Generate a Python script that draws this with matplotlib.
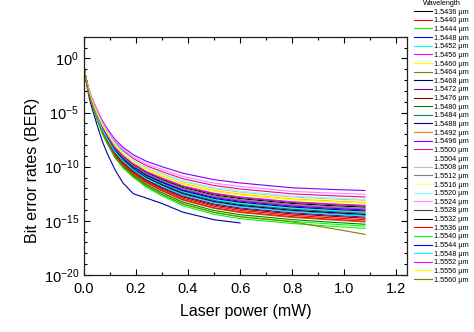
import numpy as np
import matplotlib
matplotlib.use("Agg")
import matplotlib.pyplot as plt
from matplotlib.ticker import FixedLocator, NullFormatter, MultipleLocator, FormatStrFormatter

plt.rcParams["font.family"] = ["Liberation Sans", "DejaVu Sans"]
plt.rcParams["mathtext.fontset"] = "custom"
plt.rcParams["mathtext.rm"] = "Liberation Sans"
plt.rcParams["mathtext.it"] = "Liberation Sans:italic"

power = [0, 0.01, 0.02, 0.03, 0.05, 0.07, 0.09, 0.12, 0.15, 0.19, 0.24, 0.3, 0.38, 0.5, 0.6, 0.8, 0.95, 1.08]

wavelengths = ["1.5436", "1.5440", "1.5444", "1.5448", "1.5452", "1.5456", "1.5460", "1.5464",
               "1.5468", "1.5472", "1.5476", "1.5480", "1.5484", "1.5488", "1.5492", "1.5496",
               "1.5500", "1.5504", "1.5508", "1.5512", "1.5516", "1.5520", "1.5524", "1.5528",
               "1.5532", "1.5536", "1.5540", "1.5544", "1.5548", "1.5552", "1.5556", "1.5560"]

# log10(BER) per wavelength
ber_1_5436 = [-0.8, -2.09, -3.08, -3.82, -5.1, -6.23, -7.12, -8.25, -9.04, -9.82, -10.56, -11.19, -11.92, -12.61, -12.95, -13.4, -13.6, -13.74]
ber_1_5440 = [-0.8, -2.15, -3.21, -3.99, -5.39, -6.62, -7.58, -8.81, -9.66, -10.52, -11.35, -12.08, -12.91, -13.66, -14.04, -14.49, -14.72, -14.9]
ber_1_5444 = [-0.8, -2.19, -3.28, -4.07, -5.55, -6.83, -7.82, -9.1, -9.99, -10.87, -11.76, -12.54, -13.42, -14.21, -14.6, -15.05, -15.3, -15.49]
ber_1_5448 = [-0.8, -2.1, -3.1, -3.86, -5.16, -6.31, -7.21, -8.37, -9.17, -9.97, -10.72, -11.38, -12.13, -12.83, -13.18, -13.63, -13.83, -13.99]
ber_1_5452 = [-0.8, -2.11, -3.13, -3.89, -5.21, -6.38, -7.3, -8.47, -9.28, -10.1, -10.87, -11.54, -12.31, -13.02, -13.38, -13.83, -14.04, -14.2]
ber_1_5456 = [-0.8, -2.1, -3.1, -3.85, -5.14, -6.29, -7.19, -8.33, -9.13, -9.93, -10.68, -11.32, -12.07, -12.77, -13.12, -13.57, -13.77, -13.92]
ber_1_5460 = [-0.8, -2.07, -3.04, -3.77, -5.01, -6.11, -6.98, -8.08, -8.85, -9.61, -10.32, -10.92, -11.62, -12.29, -12.62, -13.07, -13.26, -13.39]
ber_1_5464 = [-0.8, -2.17, -3.23, -4.02, -5.45, -6.7, -7.66, -8.91, -9.78, -10.64, -11.49, -12.24, -13.09, -13.86, -14.24, -14.69, -14.92, -15.11]
ber_1_5468 = [-0.8, -2.11, -3.12, -3.87, -5.19, -6.35, -7.26, -8.42, -9.23, -10.03, -10.8, -11.46, -12.22, -12.93, -13.28, -13.73, -13.94, -14.09]
ber_1_5472 = [-0.8, -2.14, -3.18, -3.95, -5.33, -6.54, -7.48, -8.69, -9.53, -10.37, -11.18, -11.89, -12.7, -13.44, -13.81, -14.26, -14.48, -14.65]
ber_1_5476 = [-0.8, -2.15, -3.19, -3.97, -5.36, -6.58, -7.52, -8.74, -9.59, -10.43, -11.25, -11.97, -12.79, -13.54, -13.91, -14.36, -14.58, -14.76]
ber_1_5480 = [-0.8, -2.18, -3.26, -4.05, -5.5, -6.77, -7.75, -9.01, -9.89, -10.77, -11.64, -12.4, -13.27, -14.05, -14.44, -14.89, -15.13, -15.32]
ber_1_5484 = [-0.8, -2.12, -3.14, -3.9, -5.24, -6.42, -7.34, -8.52, -9.34, -10.16, -10.94, -11.62, -12.4, -13.12, -13.48, -13.93, -14.14, -14.3]
ber_1_5488 = [-0.8, -2.3, -3.6, -4.5, -6.1, -7.6, -8.8, -10.3, -11.5, -12.5, -12.9, -13.4, -14.2, -14.9, -15.2, np.nan, np.nan, np.nan]
ber_1_5492 = [-0.8, -2.06, -3.02, -3.76, -4.98, -6.07, -6.93, -8.03, -8.79, -9.55, -10.24, -10.84, -11.53, -12.19, -12.52, -12.97, -13.15, -13.29]
ber_1_5496 = [-0.8, -2.0, -2.9, -3.6, -4.7, -5.7, -6.5, -7.5, -8.2, -8.9, -9.5, -10.0, -10.6, -11.2, -11.5, -11.95, -12.1, -12.2]
ber_1_5500 = [-0.8, -2.03, -2.97, -3.69, -4.85, -5.9, -6.74, -7.79, -8.52, -9.26, -9.91, -10.46, -11.11, -11.74, -12.06, -12.51, -12.68, -12.8]
ber_1_5504 = [-0.8, -2.07, -3.05, -3.79, -5.03, -6.14, -7.02, -8.13, -8.9, -9.68, -10.39, -11.0, -11.71, -12.38, -12.72, -13.17, -13.36, -13.5]
ber_1_5508 = [-0.8, -2.05, -3.0, -3.73, -4.93, -6.01, -6.86, -7.94, -8.69, -9.45, -10.12, -10.7, -11.38, -12.03, -12.36, -12.81, -12.98, -13.11]
ber_1_5512 = [-0.8, -2.09, -3.09, -3.84, -5.12, -6.26, -7.16, -8.3, -9.09, -9.89, -10.63, -11.27, -12.01, -12.7, -13.05, -13.5, -13.7, -13.85]
ber_1_5516 = [-0.8, -2.06, -3.02, -3.75, -4.96, -6.05, -6.91, -7.99, -8.75, -9.51, -10.2, -10.78, -11.47, -12.13, -12.46, -12.91, -13.09, -13.22]
ber_1_5520 = [-0.8, -2.05, -2.99, -3.72, -4.91, -5.98, -6.82, -7.89, -8.64, -9.38, -10.05, -10.62, -11.29, -11.94, -12.26, -12.71, -12.88, -13.01]
ber_1_5524 = [-0.8, -2.02, -2.94, -3.65, -4.79, -5.82, -6.64, -7.67, -8.39, -9.11, -9.74, -10.27, -10.9, -11.52, -11.83, -12.28, -12.44, -12.55]
ber_1_5528 = [-0.8, -2.08, -3.06, -3.81, -5.07, -6.19, -7.07, -8.2, -8.98, -9.76, -10.48, -11.11, -11.83, -12.51, -12.85, -13.3, -13.49, -13.64]
ber_1_5532 = [-0.8, -2.13, -3.15, -3.92, -5.27, -6.46, -7.38, -8.57, -9.4, -10.22, -11.01, -11.7, -12.49, -13.22, -13.58, -14.03, -14.24, -14.41]
ber_1_5536 = [-0.8, -2.16, -3.22, -4.01, -5.43, -6.67, -7.63, -8.88, -9.74, -10.6, -11.44, -12.19, -13.03, -13.79, -14.17, -14.62, -14.85, -15.04]
ber_1_5540 = [-0.8, -2.2, -3.3, -4.1, -5.6, -6.9, -7.9, -9.2, -10.1, -11.0, -11.9, -12.7, -13.6, -14.4, -14.8, -15.25, -15.5, -15.7]
ber_1_5544 = [-0.8, -2.13, -3.16, -3.93, -5.29, -6.49, -7.42, -8.62, -9.45, -10.29, -11.08, -11.78, -12.58, -13.31, -13.68, -14.13, -14.34, -14.51]
ber_1_5548 = [-0.8, -2.13, -3.17, -3.94, -5.3, -6.5, -7.44, -8.64, -9.47, -10.31, -11.11, -11.81, -12.61, -13.34, -13.71, -14.16, -14.38, -14.55]
ber_1_5552 = [-0.8, -2.08, -3.06, -3.8, -5.05, -6.17, -7.05, -8.16, -8.94, -9.72, -10.44, -11.05, -11.77, -12.45, -12.79, -13.24, -13.43, -13.57]
ber_1_5556 = [-0.8, -2.07, -3.03, -3.77, -5.0, -6.1, -6.96, -8.06, -8.83, -9.59, -10.29, -10.89, -11.59, -12.26, -12.59, -13.04, -13.22, -13.36]
ber_1_5560 = [-0.8, -2.19, -3.28, -4.08, -5.56, -6.84, -7.83, -9.12, -10.01, -10.9, -11.78, -12.57, -13.45, -14.24, -14.64, -15.1, -15.7, -16.25]

series = [ber_1_5436, ber_1_5440, ber_1_5444, ber_1_5448, ber_1_5452, ber_1_5456, ber_1_5460, ber_1_5464,
          ber_1_5468, ber_1_5472, ber_1_5476, ber_1_5480, ber_1_5484, ber_1_5488, ber_1_5492, ber_1_5496,
          ber_1_5500, ber_1_5504, ber_1_5508, ber_1_5512, ber_1_5516, ber_1_5520, ber_1_5524, ber_1_5528,
          ber_1_5532, ber_1_5536, ber_1_5540, ber_1_5544, ber_1_5548, ber_1_5552, ber_1_5556, ber_1_5560]

# Origin default colour cycle
origin_colors = ["#000000", "#FF0000", "#00FF00", "#0000FF", "#00FFFF", "#FF00FF", "#FFFF00", "#808000",
                 "#000080", "#800080", "#800000", "#008000", "#008080", "#0000A0", "#FF8000", "#8000FF",
                 "#FF0080", "#FFFFFF", "#C0C0C0", "#808080", "#FFFF80", "#80FFFF", "#FF80FF", "#404040"]

fig = plt.figure(figsize=(4.74, 3.32), dpi=100)
ax = fig.add_axes([0.177, 0.172, 0.682, 0.717])

x = np.array(power)
for i, (wl, vals) in enumerate(zip(wavelengths, series)):
    y = 10.0 ** np.array(vals)
    ax.plot(x, y, color=origin_colors[i % len(origin_colors)], lw=0.8,
            label=wl + " \u03bcm")

ax.set_yscale("log")
ax.set_xlim(0, 1.242)
ax.set_ylim(1e-20, 1e2)
ax.set_yticks([10.0 ** k for k in range(-20, 1, 5)])
ax.yaxis.set_minor_locator(FixedLocator([10.0 ** k for k in range(-20, 3)]))
ax.yaxis.set_minor_formatter(NullFormatter())
ax.xaxis.set_major_locator(MultipleLocator(0.2))
ax.xaxis.set_minor_locator(MultipleLocator(0.1))
ax.xaxis.set_major_formatter(FormatStrFormatter("%.1f"))

ax.tick_params(which="both", direction="in", top=True, right=True, labelsize=10.5, width=0.8)
ax.tick_params(which="major", length=4)
ax.tick_params(which="minor", length=2.5)
ax.tick_params(axis="x", pad=5)
for s in ax.spines.values():
    s.set_linewidth(0.9)
    s.set_color("#202020")

ax.set_xlabel("Laser power (mW)", fontsize=11.5, labelpad=6)
ax.set_ylabel("Bit error rates (BER)", fontsize=11.5)
ax.yaxis.set_label_coords(-0.136, 0.44)

leg = ax.legend(title="Wavelength", loc="upper left", bbox_to_anchor=(0.874, 1.0),
                bbox_transform=fig.transFigure, frameon=False, fontsize=5.2,
                title_fontsize=5.2, handlelength=2.5, handletextpad=0.3,
                labelspacing=0.22, borderpad=0.0, borderaxespad=0.0)

fig.savefig("out.png", dpi=100)
